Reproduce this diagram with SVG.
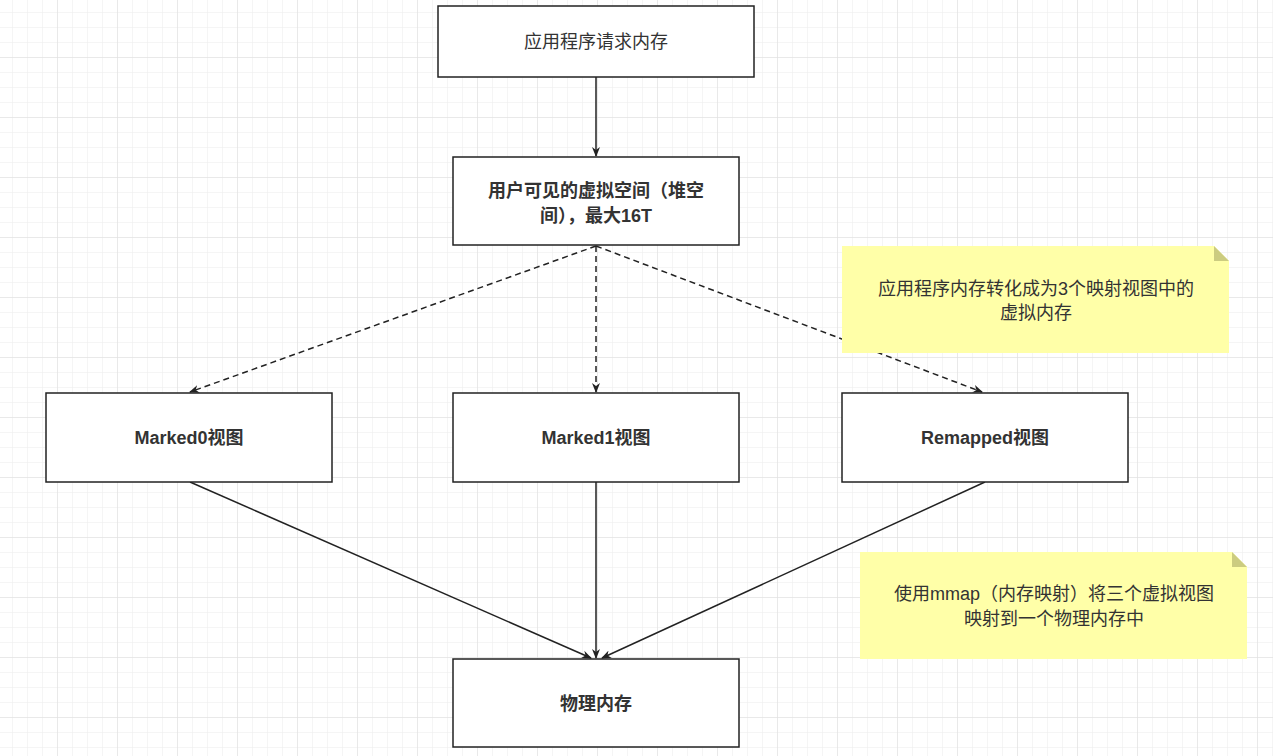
<svg xmlns="http://www.w3.org/2000/svg" width="1273" height="756" viewBox="0 0 1273 756">
<defs>
<pattern id="g" width="15" height="15" patternUnits="userSpaceOnUse" x="12" y="12"><path d="M0 0H15M0 0V15" stroke="#ebebeb" stroke-width="1" fill="none"/></pattern>
<pattern id="G" width="60" height="60" patternUnits="userSpaceOnUse" x="57" y="57"><path d="M0 0H60M0 0V60" stroke="#dedede" stroke-width="1" fill="none"/></pattern>
<marker id="a" viewBox="0 0 10 10" refX="9" refY="5" markerWidth="10" markerHeight="10" markerUnits="userSpaceOnUse" orient="auto"><path d="M0 1L10 5L0 9L3 5Z" fill="#222"/></marker>
</defs>
<style>
.b{fill:#fff;stroke:#222;stroke-width:1.5}
.t{font-family:"Liberation Sans","Noto Sans CJK SC",sans-serif;font-size:18px;fill:#333;text-anchor:middle}
.bd{font-weight:bold}
.c{stroke:#222;stroke-width:1.5;fill:none;marker-end:url(#a)}
.d{stroke-dasharray:6 4}
.n{fill:#ffffa8}
.f{fill:#cccc80}
</style>
<rect width="1273" height="756" fill="#fff"/>
<rect width="1273" height="756" fill="url(#g)"/>
<rect width="1273" height="756" fill="url(#G)"/>
<g id="connectors">
<path class="c" d="M596 77V156"/>
<path class="c d" d="M596 246L190 392"/>
<path class="c d" d="M596 246V392"/>
<path class="c d" d="M596 246L982 392"/>
<path class="c" d="M190 482L591 658"/>
<path class="c" d="M596 482V658"/>
<path class="c" d="M985 482L602 658"/>
</g>
<g id="n1"><rect class="b" x="438" y="6" width="316" height="71"/><text class="t" x="596" y="48">应用程序请求内存</text></g>
<g id="n2"><rect class="b" x="453" y="157" width="286" height="88"/><text class="t bd" x="596" y="197">用户可见的虚拟空间（堆空</text><text class="t bd" x="596" y="222">间），最大16T</text></g>
<g id="note1"><path class="n" d="M842 246H1214L1229 261V353H842Z"/><path class="f" d="M1214 246L1229 261H1214Z"/><text class="t" x="1036" y="295">应用程序内存转化成为3个映射视图中的</text><text class="t" x="1036" y="319">虚拟内存</text></g>
<g id="m0"><rect class="b" x="46" y="393" width="286" height="89"/><text class="t bd" x="189" y="444">Marked0视图</text></g>
<g id="m1"><rect class="b" x="453" y="393" width="286" height="89"/><text class="t bd" x="596" y="444">Marked1视图</text></g>
<g id="rm"><rect class="b" x="842" y="393" width="286" height="89"/><text class="t bd" x="985" y="444">Remapped视图</text></g>
<g id="note2"><path class="n" d="M860 552H1232L1247 567V659H860Z"/><path class="f" d="M1232 552L1247 567H1232Z"/><text class="t" x="1054" y="600">使用mmap（内存映射）将三个虚拟视图</text><text class="t" x="1054" y="625">映射到一个物理内存中</text></g>
<g id="pm"><rect class="b" x="453" y="659" width="286" height="88"/><text class="t bd" x="596" y="710">物理内存</text></g>
</svg>
